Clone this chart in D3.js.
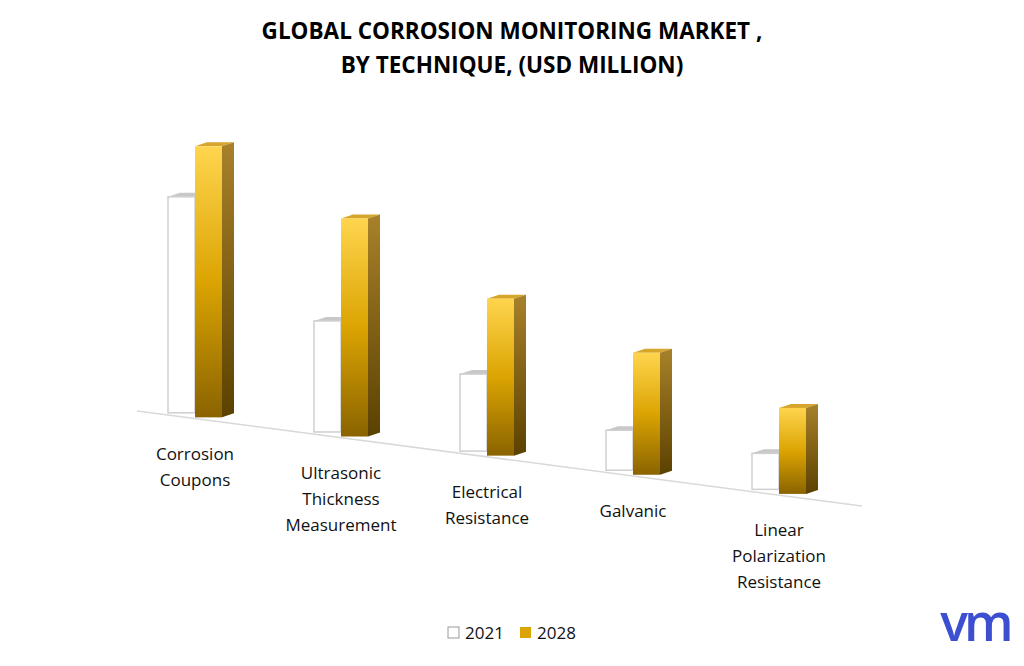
<!DOCTYPE html>
<html>
<head>
<meta charset="utf-8">
<script src="https://cdn.jsdelivr.net/npm/d3@7"></script>
<style>
  body { margin: 0; background: #fff; }
  text { font-family: "Open Sans", sans-serif; }
</style>
</head>
<body>
<svg id="chart" width="1024" height="666"></svg>
<script>
// chart data
const categories = ["Corrosion Coupons", "Ultrasonic Thickness Measurement", "Electrical Resistance", "Galvanic", "Linear Polarization Resistance"];
const labelLines = [["Corrosion", "Coupons"], ["Ultrasonic", "Thickness", "Measurement"], ["Electrical", "Resistance"], ["Galvanic"], ["Linear", "Polarization", "Resistance"]];
const series = ["2021", "2028"];
const values2021 = [432, 222, 154, 80, 72];
const values2028 = [542, 436, 314, 244, 172];

let svg = d3.select("#chart");
let defs = svg.append("defs");

function grad(id, stops) {
    let g = defs.append("linearGradient").attr("id", id)
        .attr("x1", 0).attr("y1", 0).attr("x2", 0).attr("y2", 1);
    stops.forEach(s => g.append("stop").attr("offset", s[0]).attr("stop-color", s[1]));
}
grad("goldFront", [[0, "#ffd54e"], [0.5, "#dba402"], [1, "#8a6300"]]);
grad("goldSide", [[0, "#a8812a"], [1, "#5b4100"]]);

// title
svg.append("text").attr("x", 512).attr("y", 39).attr("text-anchor", "middle")
    .style("font-size", "22.5px").style("font-weight", "bold").text("GLOBAL CORROSION MONITORING MARKET ,");
svg.append("text").attr("x", 512).attr("y", 73).attr("text-anchor", "middle")
    .style("font-size", "22.5px").style("font-weight", "bold").text("BY TECHNIQUE, (USD MILLION)");

// floor in perspective: slanted line
let floorX0 = 137, floorY0 = 411, floorX1 = 862, floorY1 = 506;
let floorY = x => floorY0 + (x - floorX0) * (floorY1 - floorY0) / (floorX1 - floorX0);
svg.append("line").attr("x1", floorX0).attr("y1", floorY0).attr("x2", floorX1).attr("y2", floorY1)
    .attr("stroke", "#d9d9d9").attr("stroke-width", 1.5);

let xScale = d3.scaleBand().domain(categories).range([130, 860]).paddingInner(0);
let hScale = d3.scaleLinear().domain([0, 600]).range([0, 300]);

let barW = 27, dx = 12, dy = 4;

categories.forEach((c, i) => {
    let cx = xScale(c) + xScale.bandwidth() / 2 - 8;
    // white 2021 bar
    let wx = cx - barW, wb = floorY(wx + barW / 2) - 4, wh = hScale(values2021[i]);
    svg.append("path")
        .attr("d", `M${wx},${wb - wh} L${wx + dx},${wb - wh - dy} L${wx + barW + dx},${wb - wh - dy} L${wx + barW},${wb - wh} Z`)
        .attr("fill", "#c8c8c8");
    svg.append("rect").attr("x", wx).attr("y", wb - wh).attr("width", barW).attr("height", wh)
        .attr("fill", "#fff").attr("stroke", "#cfcfcf").attr("stroke-width", 1.5);
    // gold 2028 bar
    let gx = cx, gb = floorY(gx + barW / 2) - 3, gh = hScale(values2028[i]);
    svg.append("path")
        .attr("d", `M${gx},${gb - gh} L${gx + dx},${gb - gh - dy} L${gx + barW + dx},${gb - gh - dy} L${gx + barW},${gb - gh} Z`)
        .attr("fill", "#d6a52c");
    svg.append("path")
        .attr("d", `M${gx + barW},${gb - gh} L${gx + barW + dx},${gb - gh - dy} L${gx + barW + dx},${gb - dy} L${gx + barW},${gb} Z`)
        .attr("fill", "url(#goldSide)");
    svg.append("rect").attr("x", gx).attr("y", gb - gh).attr("width", barW).attr("height", gh)
        .attr("fill", "url(#goldFront)");

    // category label
    let lx = cx, ly = floorY(lx) + 41;
    labelLines[i].forEach((t, j) => {
        svg.append("text").attr("x", lx).attr("y", ly + j * 26).attr("text-anchor", "middle")
            .style("font-size", "17px").attr("fill", "#111").text(t);
    });
});

// legend
let legend = svg.append("g").attr("transform", "translate(448,627)");
series.forEach((s, i) => {
    let g = legend.append("g").attr("transform", `translate(${i * 72},0)`);
    g.append("rect").attr("width", 11).attr("height", 11)
        .attr("fill", i === 0 ? "#fff" : "#dba402").attr("stroke", i === 0 ? "#999" : "none");
    g.append("text").attr("x", 17).attr("y", 12).style("font-size", "17px").attr("fill", "#111").text(s);
});

// logo
svg.append("text").attr("x", 975).attr("y", 641).attr("text-anchor", "middle")
    .style("font-size", "52px").style("font-weight", "600").attr("fill", "#3b4fd0")
    .style("letter-spacing", "-4px").text("vm");
</script>
</body>
</html>
